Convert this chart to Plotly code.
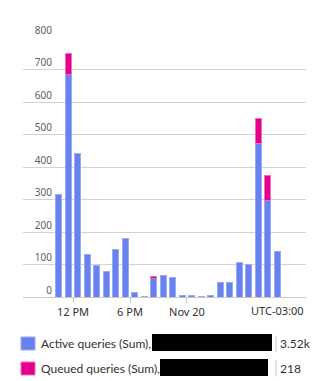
import plotly.graph_objects as go
from datetime import datetime, timedelta

# ---- data ----
start = datetime(2023, 11, 19, 10, 30)
times = [start + timedelta(hours=i) for i in range(24)]
active = [315, 686, 443, 130, 97, 80, 146, 180, 15, 3, 57, 66, 61, 4, 4, 2, 4, 44, 44, 106, 99, 473, 298, 141]
queued = [None, 62, None, None, None, None, None, None, None, None, 5, None, None, None, None, None, None, None, None, None, None, 76, 75, None]
series_names = ["Active queries (Sum),", "Queued queries (Sum),"]
legend_totals = ["3.52k", "218"]
x_tickvals = [datetime(2023, 11, 19, 12), datetime(2023, 11, 19, 18), datetime(2023, 11, 20, 0)]
x_ticktext = ["12 PM", "6 PM", "Nov 20"]
y_tickvals = [0, 100, 200, 300, 400, 500, 600, 700, 800]
timezone_label = "UTC-03:00"

BLUE = "#6781ee"
BLUE_EDGE = "#9aabf3"
PINK = "#e3008c"
PINK_EDGE = "#ef6fbd"
FONT = "Segoe UI, Noto Sans, Open Sans, sans-serif"
LEGEND_FONT = "Lato, Noto Sans, sans-serif"

W, H = 329, 381
L, R, T, B = 23, 23, 37, 84
PW, PH = W - L - R, H - T - B


def px(x):
    return (x - L) / PW


def py(y):
    return (H - B - y) / PH


bar_w = 2.25e6  # ms

fig = go.Figure()
fig.add_trace(go.Bar(x=times, y=active, width=[bar_w] * len(times), name=series_names[0],
                     marker=dict(color=BLUE, line=dict(color=BLUE_EDGE, width=1))))
fig.add_trace(go.Bar(x=times, y=queued, width=[bar_w] * len(times), name=series_names[1],
                     marker=dict(color=PINK, line=dict(color=PINK_EDGE, width=1))))

fig.update_layout(
    width=W, height=H,
    margin=dict(l=L, r=R, t=T, b=B, pad=0),
    barmode="stack",
    showlegend=False,
    plot_bgcolor="white", paper_bgcolor="white",
    font=dict(family=FONT, size=11, color="#323130"),
    xaxis=dict(
        type="date",
        range=[datetime(2023, 11, 19, 6, 44), datetime(2023, 11, 20, 12, 32)],
        tickvals=x_tickvals, ticktext=x_ticktext,
        ticks="outside", ticklen=5, tickcolor="#c8c8c8", tickwidth=1,
        showgrid=False, showline=False, zeroline=False,
        tickfont=dict(size=11, color="#323130"),
    ),
    yaxis=dict(
        range=[0, 800],
        tickvals=y_tickvals,
        anchor="free", position=px(52),
        ticklabelposition="outside top",
        ticks="", showline=False,
        showgrid=True, gridcolor="#d2d2d2", gridwidth=1,
        zeroline=True, zerolinecolor="#c8c8c8", zerolinewidth=1,
        tickfont=dict(size=10, color="#605e5c"),
    ),
)

# timezone label
fig.add_annotation(x=px(306), y=py(310), xref="paper", yref="paper", text=timezone_label,
                   showarrow=False, xanchor="right", yanchor="middle",
                   font=dict(size=11, color="#323130"))

# custom legend
rows = [
    dict(color=BLUE, edge=BLUE_EDGE, y0=337, y1=350, cy=343.5, box=(152, 272, 334, 351)),
    dict(color=PINK, edge=PINK_EDGE, y0=362, y1=375, cy=368.5, box=(160, 268, 359, 376)),
]
for i, r in enumerate(rows):
    fig.add_shape(type="rect", xref="paper", yref="paper",
                  x0=px(21), x1=px(35), y0=py(r["y1"]), y1=py(r["y0"]),
                  fillcolor=r["color"], line=dict(color=r["edge"], width=1))
    fig.add_annotation(x=px(39), y=py(r["cy"]), xref="paper", yref="paper", text=series_names[i],
                       showarrow=False, xanchor="left", yanchor="middle",
                       font=dict(family=LEGEND_FONT, size=12, color="#323130"))
    bx0, bx1, by0, by1 = r["box"]
    fig.add_shape(type="rect", xref="paper", yref="paper",
                  x0=px(bx0), x1=px(bx1), y0=py(by1), y1=py(by0),
                  fillcolor="black", line=dict(width=0))
    fig.add_shape(type="line", xref="paper", yref="paper",
                  x0=px(276), x1=px(276), y0=py(r["cy"] + 8), y1=py(r["cy"] - 8),
                  line=dict(color="#c8c8c8", width=1))
    fig.add_annotation(x=px(278), y=py(r["cy"]), xref="paper", yref="paper", text=legend_totals[i],
                       showarrow=False, xanchor="left", yanchor="middle",
                       font=dict(family=LEGEND_FONT, size=12, color="#323130"))

fig.write_html("out.html")
